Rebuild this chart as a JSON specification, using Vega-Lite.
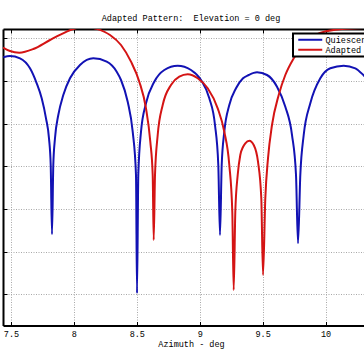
{
  "$schema": "https://vega.github.io/schema/vega-lite/v6.json",
  "autosize": "none",
  "width": 361,
  "height": 296.5,
  "padding": {"left": 3, "top": 29, "right": 0, "bottom": 38.5},
  "background": "white",
  "config": {
    "view": {"stroke": null},
    "font": "Liberation Mono",
    "legend": {"strokeWidth": 2}
  },
  "title": {
    "text": "Adapted Pattern:\u00a0 Elevation = 0 deg",
    "font": "Liberation Mono",
    "fontSize": 8.5,
    "fontWeight": "normal",
    "color": "black",
    "anchor": "middle",
    "dx": 7.5,
    "offset": 6
  },
  "data": {
    "values": [
      {"s": "Quiescent", "az": 7.4388, "db": -4.45},
      {"s": "Quiescent", "az": 7.4921, "db": -4.15},
      {"s": "Quiescent", "az": 7.5715, "db": -4.69},
      {"s": "Quiescent", "az": 7.651, "db": -7.03},
      {"s": "Quiescent", "az": 7.7043, "db": -10.55},
      {"s": "Quiescent", "az": 7.744, "db": -14.06},
      {"s": "Quiescent", "az": 7.7782, "db": -18.75},
      {"s": "Quiescent", "az": 7.802, "db": -23.44},
      {"s": "Quiescent", "az": 7.8156, "db": -29.69},
      {"s": "Quiescent", "az": 7.8259, "db": -45.93},
      {"s": "Quiescent", "az": 7.8362, "db": -29.69},
      {"s": "Quiescent", "az": 7.8498, "db": -23.37},
      {"s": "Quiescent", "az": 7.876, "db": -17.98},
      {"s": "Quiescent", "az": 7.9157, "db": -13.29},
      {"s": "Quiescent", "az": 7.969, "db": -9.37},
      {"s": "Quiescent", "az": 8.0485, "db": -6.26},
      {"s": "Quiescent", "az": 8.1542, "db": -4.69},
      {"s": "Quiescent", "az": 8.2607, "db": -5.48},
      {"s": "Quiescent", "az": 8.3402, "db": -7.83},
      {"s": "Quiescent", "az": 8.3744, "db": -9.77},
      {"s": "Quiescent", "az": 8.4277, "db": -14.86},
      {"s": "Quiescent", "az": 8.4674, "db": -21.89},
      {"s": "Quiescent", "az": 8.4936, "db": -32.04},
      {"s": "Quiescent", "az": 8.5016, "db": -59.76},
      {"s": "Quiescent", "az": 8.5119, "db": -32.04},
      {"s": "Quiescent", "az": 8.5334, "db": -21.89},
      {"s": "Quiescent", "az": 8.5731, "db": -15.23},
      {"s": "Quiescent", "az": 8.6391, "db": -10.17},
      {"s": "Quiescent", "az": 8.7186, "db": -7.43},
      {"s": "Quiescent", "az": 8.8251, "db": -6.42},
      {"s": "Quiescent", "az": 8.9308, "db": -7.43},
      {"s": "Quiescent", "az": 9.0103, "db": -9.77},
      {"s": "Quiescent", "az": 9.0763, "db": -14.06},
      {"s": "Quiescent", "az": 9.1216, "db": -20.32},
      {"s": "Quiescent", "az": 9.1478, "db": -29.69},
      {"s": "Quiescent", "az": 9.1613, "db": -46.1},
      {"s": "Quiescent", "az": 9.1749, "db": -29.69},
      {"s": "Quiescent", "az": 9.1955, "db": -21.89},
      {"s": "Quiescent", "az": 9.2353, "db": -15.63},
      {"s": "Quiescent", "az": 9.2886, "db": -11.72},
      {"s": "Quiescent", "az": 9.3442, "db": -9.37},
      {"s": "Quiescent", "az": 9.3895, "db": -8.6},
      {"s": "Quiescent", "az": 9.4555, "db": -7.97},
      {"s": "Quiescent", "az": 9.535, "db": -8.6},
      {"s": "Quiescent", "az": 9.6145, "db": -11.34},
      {"s": "Quiescent", "az": 9.6805, "db": -16.03},
      {"s": "Quiescent", "az": 9.7338, "db": -22.66},
      {"s": "Quiescent", "az": 9.7655, "db": -32.04},
      {"s": "Quiescent", "az": 9.7814, "db": -48.04},
      {"s": "Quiescent", "az": 9.7997, "db": -32.04},
      {"s": "Quiescent", "az": 9.8267, "db": -22.66},
      {"s": "Quiescent", "az": 9.8792, "db": -15.23},
      {"s": "Quiescent", "az": 9.9587, "db": -9.37},
      {"s": "Quiescent", "az": 10.0382, "db": -7.03},
      {"s": "Quiescent", "az": 10.1447, "db": -6.42},
      {"s": "Quiescent", "az": 10.2369, "db": -7.03},
      {"s": "Quiescent", "az": 10.306, "db": -8.77},
      {"s": "Quiescent", "az": 10.354, "db": -10.24},
      {"s": "Adapted", "az": 7.4364, "db": -2.16},
      {"s": "Adapted", "az": 7.4921, "db": -2.98},
      {"s": "Adapted", "az": 7.566, "db": -3.37},
      {"s": "Adapted", "az": 7.6773, "db": -2.51},
      {"s": "Adapted", "az": 7.81, "db": -0.4},
      {"s": "Adapted", "az": 7.9428, "db": 1.55},
      {"s": "Adapted", "az": 7.9952, "db": 2.18},
      {"s": "Adapted", "az": 8.0882, "db": 2.7},
      {"s": "Adapted", "az": 8.1812, "db": 2.2},
      {"s": "Adapted", "az": 8.287, "db": 0.77},
      {"s": "Adapted", "az": 8.3744, "db": -1.57},
      {"s": "Adapted", "az": 8.4539, "db": -5.48},
      {"s": "Adapted", "az": 8.5199, "db": -10.17},
      {"s": "Adapted", "az": 8.5731, "db": -16.41},
      {"s": "Adapted", "az": 8.6073, "db": -24.23},
      {"s": "Adapted", "az": 8.6264, "db": -32.04},
      {"s": "Adapted", "az": 8.6343, "db": -47.27},
      {"s": "Adapted", "az": 8.6447, "db": -32.04},
      {"s": "Adapted", "az": 8.6661, "db": -22.66},
      {"s": "Adapted", "az": 8.7059, "db": -15.63},
      {"s": "Adapted", "az": 8.7718, "db": -10.94},
      {"s": "Adapted", "az": 8.8378, "db": -9.0},
      {"s": "Adapted", "az": 8.9046, "db": -8.44},
      {"s": "Adapted", "az": 8.9841, "db": -9.37},
      {"s": "Adapted", "az": 9.0636, "db": -11.72},
      {"s": "Adapted", "az": 9.1431, "db": -16.41},
      {"s": "Adapted", "az": 9.1955, "db": -21.89},
      {"s": "Adapted", "az": 9.2353, "db": -29.69},
      {"s": "Adapted", "az": 9.2591, "db": -40.64},
      {"s": "Adapted", "az": 9.2702, "db": -58.99},
      {"s": "Adapted", "az": 9.283, "db": -40.64},
      {"s": "Adapted", "az": 9.302, "db": -32.04},
      {"s": "Adapted", "az": 9.3227, "db": -27.35},
      {"s": "Adapted", "az": 9.3442, "db": -25.47},
      {"s": "Adapted", "az": 9.3625, "db": -24.61},
      {"s": "Adapted", "az": 9.3943, "db": -24.0},
      {"s": "Adapted", "az": 9.4293, "db": -25.01},
      {"s": "Adapted", "az": 9.4634, "db": -28.92},
      {"s": "Adapted", "az": 9.4897, "db": -37.5},
      {"s": "Adapted", "az": 9.5032, "db": -55.47},
      {"s": "Adapted", "az": 9.5215, "db": -37.5},
      {"s": "Adapted", "az": 9.5429, "db": -28.12},
      {"s": "Adapted", "az": 9.5747, "db": -20.32},
      {"s": "Adapted", "az": 9.628, "db": -13.29},
      {"s": "Adapted", "az": 9.6805, "db": -8.6},
      {"s": "Adapted", "az": 9.7472, "db": -4.69},
      {"s": "Adapted", "az": 9.8506, "db": -0.87},
      {"s": "Adapted", "az": 9.9563, "db": 1.24},
      {"s": "Adapted", "az": 10.1312, "db": 2.18},
      {"s": "Adapted", "az": 10.306, "db": 2.41}
    ]
  },
  "resolve": {"axis": {"x": "independent"}},
  "layer": [
    {
      "mark": {"type": "line", "interpolate": "monotone", "strokeWidth": 2, "clip": true},
      "encoding": {
        "x": {
          "field": "az", "type": "quantitative",
          "scale": {"domain": [7.4364, 10.306], "nice": false, "zero": false},
          "axis": {
            "orient": "bottom",
            "values": [7.5, 8, 8.5, 9, 9.5, 10],
            "format": "~g",
            "title": "Azimuth - deg",
            "titleFont": "Liberation Mono", "titleFontSize": 8.5, "titleFontWeight": "normal", "titleColor": "black",
            "titleX": 188, "titleY": 21, "titleBaseline": "alphabetic", "titleAnchor": "middle", "titleAlign": "center",
            "labelFont": "Liberation Mono", "labelFontSize": 8.5, "labelColor": "black",
            "labelPadding": 8, "labelFlush": false,
            "tickSize": -4, "tickColor": "black", "tickWidth": 1,
            "domainColor": "black", "domainWidth": 2,
            "grid": true, "gridColor": "#a8a8a8", "gridDash": [1, 1.5], "gridWidth": 1
          }
        },
        "y": {
          "field": "db", "type": "quantitative",
          "scale": {"domain": [-67.3, 2.18], "nice": false, "zero": false},
          "axis": {
            "orient": "left",
            "values": [0, -10, -20, -30, -40, -50, -60],
            "title": null,
            "labels": false,
            "tickSize": -4, "tickColor": "black", "tickWidth": 1,
            "domainColor": "black", "domainWidth": 2,
            "grid": true, "gridColor": "#a8a8a8", "gridDash": [1, 1.5], "gridWidth": 1
          }
        },
        "color": {
          "field": "s", "type": "nominal",
          "scale": {"domain": ["Quiescent", "Adapted"], "range": ["#1212b4", "#d41414"]},
          "legend": {
            "title": null,
            "orient": "none",
            "legendX": 290,
            "legendY": 4.5,
            "symbolType": "M-6,0H6",
            "symbolSize": 16,
            "symbolStrokeWidth": 2,
            "symbolOffset": 11,
            "labelFont": "Liberation Mono",
            "labelFontSize": 8.5,
            "labelColor": "black",
            "labelOffset": 11,
            "padding": 2,
            "rowPadding": 1,
            "strokeColor": "black",
            "fillColor": "white",
            "cornerRadius": 0
          }
        }
      }
    },
    {
      "mark": {"type": "line", "strokeOpacity": 0, "clip": true},
      "encoding": {
        "x": {
          "field": "az", "type": "quantitative",
          "scale": {"domain": [7.4364, 10.306], "nice": false, "zero": false},
          "axis": {
            "orient": "top",
            "values": [7.5, 8, 8.5, 9, 9.5, 10],
            "title": null,
            "labels": false,
            "tickSize": -4, "tickColor": "black", "tickWidth": 1,
            "domainColor": "black", "domainWidth": 2,
            "grid": false
          }
        },
        "y": {"field": "db", "type": "quantitative"},
        "detail": {"field": "s"}
      }
    }
  ]
}
